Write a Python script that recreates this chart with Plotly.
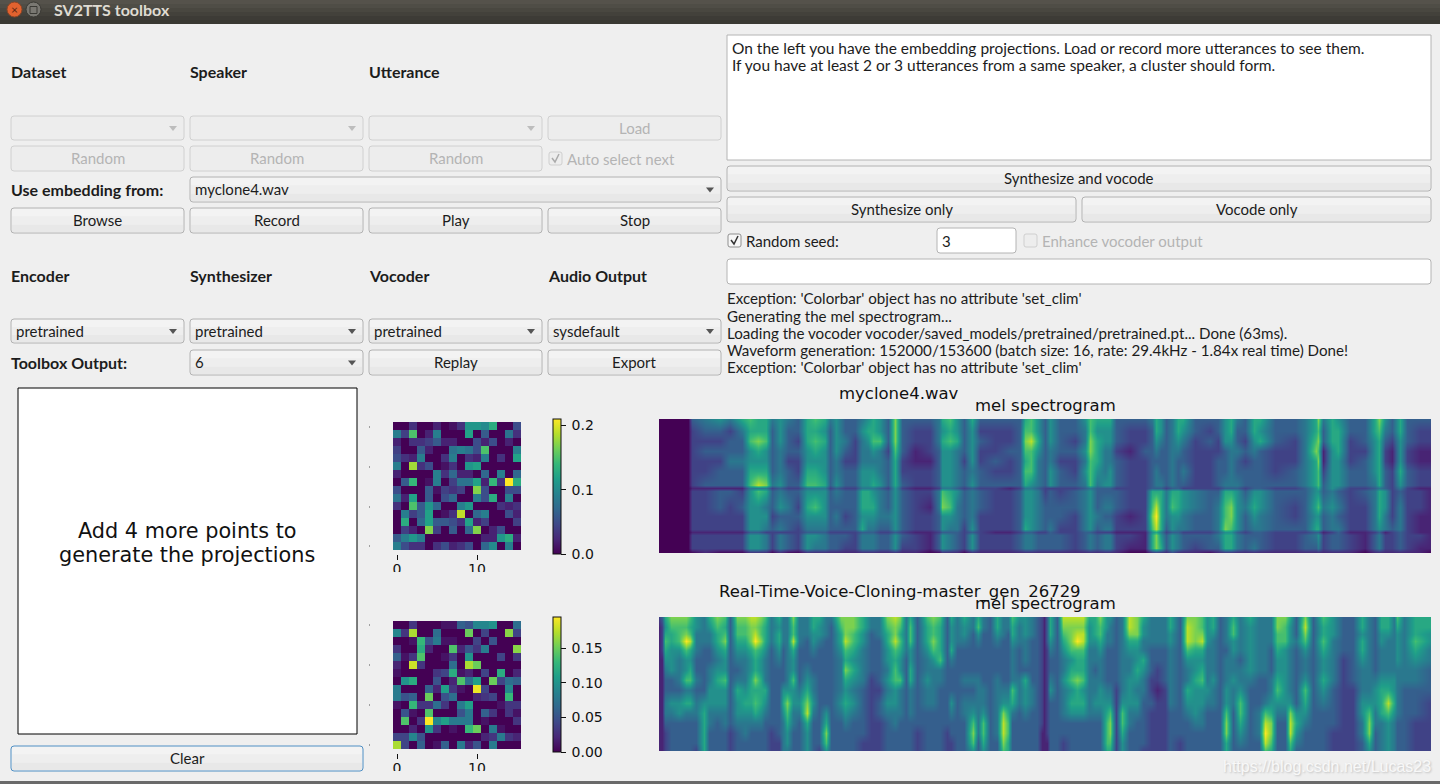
import numpy as np
import plotly.graph_objects as go

# ---------- data ----------
embed_ticks = [0, 10]
embed_cols = list(range(16))
embed_rows = list(range(16))
embed_a = [
 [0,0,.03,0,0,.02,0,.01,.03,.11,.11,.1,.13,0,0,.05],
 [.09,.04,.15,0,.02,.09,0,0,0,.12,0,.06,0,0,.08,.03],
 [.02,0,.03,.03,.04,.06,.02,.02,0,0,.05,.02,.05,0,.02,0],
 [.04,0,0,.06,.02,0,0,.08,.09,.08,.05,.15,0,0,0,.09],
 [.05,.03,.02,.09,0,0,.03,.09,0,.03,.02,.09,0,.03,0,.12],
 [.09,0,.18,.03,.05,0,.01,.03,0,.11,.12,0,0,0,0,0],
 [.02,0,0,0,0,.09,.03,.07,.02,.02,0,.07,0,.09,0,.07],
 [0,.06,.14,0,.01,.09,0,.04,.08,.08,.12,.02,.14,.03,.21,.13],
 [.05,0,0,0,.06,.01,.04,.03,.04,0,.17,.05,0,0,.05,.05],
 [.08,.02,.12,0,.06,0,.05,.07,0,0,.09,.05,.13,0,.09,0],
 [.03,0,.15,.06,.11,.07,0,0,.09,.11,0,0,0,.03,.02,.03],
 [0,.09,.04,.06,.12,0,.01,.03,.19,0,.07,.09,0,0,.05,.02],
 [0,.13,0,.07,.12,.06,.06,.05,.03,.12,.02,.04,0,0,0,.04],
 [0,.04,.02,0,.17,.04,0,.06,0,.07,.17,0,.02,.05,0,0],
 [.06,.09,.11,.09,0,0,0,0,0,0,0,.02,.02,.11,.13,.02],
 [.09,.05,.03,.03,0,.03,.05,.02,.03,.05,0,.07,.1,0,.09,0],
]
embed_b = [
 [0,0,.03,0,0,0,.01,.01,.06,.05,.09,.09,.1,0,0,.07],
 [.09,.03,.17,0,0,.07,0,0,0,.15,0,.04,0,0,.16,.04],
 [0,0,.01,.13,.05,.08,.01,.01,0,0,.04,0,.05,0,0,0],
 [.03,0,0,.12,.02,0,0,.14,.02,.05,.03,.08,0,0,0,.16],
 [.06,.01,.03,.14,0,0,.01,.03,0,.1,0,0,0,.04,0,.03],
 [.02,0,.18,.03,0,0,0,.07,0,.17,.15,0,0,0,0,0],
 [.01,0,0,0,0,.03,.04,.12,.01,.02,0,.04,0,.12,0,.02],
 [0,.1,.12,0,0,.05,0,.02,.14,.07,.11,0,.15,.04,.07,.06],
 [.08,0,0,0,.06,.02,.11,.03,.01,0,.19,.04,0,0,.09,0],
 [.08,.05,.06,0,.15,0,.05,.07,0,0,.02,.03,.04,0,.13,0],
 [.01,0,.13,.03,.03,.07,.03,0,.08,.11,0,0,0,.01,.03,.03],
 [0,.05,.01,0,.14,0,0,0,.05,.08,0,.06,.03,0,.03,.01],
 [0,.14,0,.03,.195,.09,.11,.08,.08,.08,0,.01,0,0,0,.03],
 [0,0,.02,0,.1,.03,0,.01,0,.13,.15,0,.08,.01,0,0],
 [.04,.04,.09,.05,0,0,0,0,0,0,0,.02,.03,.08,.03,.02],
 [.17,.04,0,.06,0,.01,.06,0,.08,.02,.05,0,.08,0,0,0],
]
cbar_a_ticks = [0.0, 0.1, 0.2]
cbar_a_labels = ["\u20090.0", "\u20090.1", "\u20090.2"]
cbar_b_ticks = [0.0, 0.05, 0.10, 0.15]
cbar_b_labels = ["\u20090.00", "\u20090.05", "\u20090.10", "\u20090.15"]

mel_a_bins = [134,122,112,102,92,82,68,65,62,46,37,24,21,18,5,0]
mel_a_frames = [0,29,33,46,61,71,83,91,99,107,113,121,129,139,148,156,166,171,177,186,196,203,209,214,221,229,236,243,
 256,271,280,283,291,298,305,313,321,336,351,361,366,372,379,386,391,401,416,426,431,438,446,451,457,471,486,493,497,
 502,507,513,519,524,536,551,559,566,572,578,586,595,601,616,636,646,657,659,664,673,679,691,706,716,720,726,733,741,
 748,761,772]
mel_a_cols = [
 [0]*16,
 [0]*16,
 [3,2,2,2,2,2,2,1,2,2,2,2,1,2,2,0],
 [4,3,2,3,2,2,3,1,2,2,2,2,1,2,2,1],
 [5,3,2,3,2,3,3,1,3,3,2,2,1,2,2,0],
 [4,2,3,3,4,3,3,1,3,2,2,2,1,2,2,0],
 [6,4,3,3,4,3,3,1,2,3,2,2,1,2,2,0],
 [7,6,7,5,5,6,7,4,5,5,5,5,3,5,5,1],
 [6,6,8,6,5,6,9,4,7,5,5,5,3,5,5,1],
 [6,6,7,5,5,6,8,4,6,4,5,4,2,4,4,1],
 [4,3,3,3,3,3,4,2,3,3,2,3,2,2,2,0],
 [5,5,5,4,4,4,5,3,4,5,3,4,2,4,4,1],
 [4,3,3,3,2,3,3,2,3,4,3,3,2,3,3,0],
 [3,3,2,3,2,2,3,2,3,2,3,2,2,2,2,0],
 [6,6,6,5,5,6,7,4,5,6,5,4,3,5,5,1],
 [7,6,7,6,5,6,7,4,5,7,5,4,3,5,4,1],
 [6,5,6,5,5,5,6,4,5,5,5,4,3,4,4,1],
 [4,3,3,3,3,3,3,2,3,3,3,3,2,3,3,1],
 [5,5,5,5,4,4,5,3,4,3,4,3,2,3,3,1],
 [3,3,4,3,2,3,3,2,3,3,2,3,2,3,2,1],
 [3,3,2,2,2,3,3,2,3,3,3,3,2,2,2,1],
 [4,5,4,4,4,5,5,4,6,6,5,6,3,4,4,1],
 [5,6,5,4,4,5,5,4,6,6,5,4,3,4,4,1],
 [6,6,7,5,4,5,6,4,5,6,5,4,3,4,4,1],
 [5,5,7,4,4,4,5,3,4,4,4,3,2,3,3,1],
 [3,3,3,2,3,3,3,2,3,3,4,3,2,3,3,1],
 [8,8,8,7,6,6,6,5,5,5,5,5,3,5,5,1],
 [3,3,3,3,2,2,3,2,3,3,3,3,2,3,2,1],
 [3,2,2,1,1,2,2,1,2,2,2,2,1,2,2,1],
 [3,2,2,2,1,2,2,1,2,1,2,2,1,1,1,0],
 [4,4,4,3,3,3,3,2,4,4,3,3,2,3,3,0],
 [6,5,6,5,5,5,5,4,7,8,5,5,3,5,5,1],
 [7,6,7,5,5,5,5,4,6,7,5,4,3,4,4,1],
 [5,5,6,4,4,4,4,3,5,4,4,4,3,3,3,1],
 [3,3,3,3,2,3,3,2,3,3,3,2,2,2,2,0],
 [6,5,5,5,5,4,5,3,4,4,4,5,3,5,5,1],
 [3,2,3,2,2,3,3,2,3,3,2,2,2,2,2,1],
 [3,2,2,2,3,2,3,2,2,2,2,2,1,2,2,1],
 [3,2,2,3,2,2,3,1,2,2,2,2,1,2,2,1],
 [3,3,3,3,3,3,3,2,3,3,3,3,2,3,3,1],
 [6,7,8,7,6,7,6,4,5,5,5,6,3,4,4,1],
 [7,7,9,7,7,7,5,4,5,5,5,5,3,4,4,1],
 [5,5,6,5,4,4,4,3,4,4,4,4,2,3,3,1],
 [3,3,3,3,3,3,3,2,2,3,3,3,2,3,3,1],
 [5,5,5,4,4,5,5,2,3,3,3,4,3,3,3,1],
 [3,3,3,3,2,3,3,2,2,3,3,2,2,3,3,1],
 [3,3,2,3,2,2,3,2,3,3,2,2,2,2,2,1],
 [5,4,4,5,4,5,4,3,4,4,4,4,3,3,3,1],
 [7,7,8,8,7,7,7,4,5,5,5,5,3,4,4,1],
 [6,5,6,6,6,5,4,3,3,3,4,3,2,3,3,1],
 [6,5,5,4,4,4,5,3,3,4,3,4,2,4,4,1],
 [6,5,5,4,4,5,5,3,3,4,3,4,2,4,4,1],
 [3,3,3,2,3,3,3,2,3,3,2,2,1,2,2,1],
 [3,2,2,1,2,2,2,2,2,2,1,2,1,2,1,0],
 [3,2,2,3,2,2,2,2,2,2,2,2,1,1,1,0],
 [4,3,3,3,3,3,3,3,6,7,8,7,5,6,6,1],
 [6,6,5,4,3,4,4,3,6,9,10,9,6,8,8,1],
 [5,5,4,3,3,3,4,3,6,6,6,6,4,5,6,1],
 [3,3,3,3,3,3,3,2,4,4,4,3,2,3,3,1],
 [4,4,4,4,4,4,4,3,6,7,5,5,3,5,5,2],
 [6,6,5,4,3,3,3,3,6,6,5,4,3,4,4,1],
 [6,5,4,3,3,4,3,2,5,5,4,4,2,3,3,1],
 [3,3,2,2,2,2,2,2,4,4,3,3,2,3,2,1],
 [3,2,3,2,2,2,2,2,3,3,3,3,2,3,3,0],
 [3,3,2,2,3,3,3,2,3,4,4,4,3,4,3,1],
 [5,5,5,3,3,3,4,3,6,7,7,8,5,6,6,1],
 [6,6,5,4,4,4,4,3,6,8,8,7,5,6,6,1],
 [4,3,3,4,3,3,4,3,5,5,5,5,3,4,4,1],
 [3,3,2,3,2,3,3,2,3,4,3,3,2,3,3,1],
 [6,6,5,4,3,3,3,3,5,6,5,4,3,3,4,1],
 [6,5,6,3,3,3,3,3,5,5,4,4,3,3,3,1],
 [3,3,3,2,2,2,3,2,3,3,3,3,2,2,2,1],
 [3,3,2,2,2,3,3,2,3,2,2,3,2,2,2,1],
 [4,4,4,4,4,4,4,3,3,3,3,3,2,3,3,1],
 [6,6,7,8,6,6,6,5,5,6,5,6,3,4,3,1],
 [8,7,8,7,8,7,7,6,5,7,5,6,3,5,4,1],
 [4,3,3,1,1,2,3,3,3,4,3,3,1,2,2,1],
 [6,6,6,5,5,5,5,5,4,5,4,4,2,3,3,1],
 [5,6,6,6,5,5,5,4,3,4,3,4,3,3,3,1],
 [3,3,2,2,2,3,3,2,2,2,2,2,1,2,2,1],
 [3,3,3,2,3,3,3,2,3,2,2,2,1,1,1,0],
 [6,6,5,5,5,5,4,3,4,4,4,4,2,3,3,1],
 [8,7,6,6,6,6,6,4,6,6,6,5,3,4,4,1],
 [5,4,3,2,2,3,3,3,5,5,4,4,1,2,2,1],
 [3,3,2,1,1,2,2,2,2,2,2,3,2,2,2,1],
 [6,6,5,5,5,6,5,4,3,4,4,4,3,3,3,1],
 [3,3,3,2,2,3,3,2,2,2,2,2,2,2,2,1],
 [3,2,2,1,1,2,2,1,2,2,1,1,1,2,1,1],
 [3,2,2,1,1,2,2,1,1,1,1,1,1,1,1,0],
]

mel_b_bins = [134,124,117,110,101,91,81,71,61,48,38,28,18,8,0]
mel_b_frames = [0,3,6,12,20,27,31,37,45,50,58,66,71,78,86,92,96,102,106,112,120,124,128,134,140,148,154,160,167,172,
 182,186,194,204,212,220,228,236,241,247,251,258,268,274,281,288,292,298,305,314,319,324,331,338,344,349,353,360,366,
 373,378,383,385,388,391,398,404,412,418,424,430,436,441,448,451,457,463,470,478,484,492,498,506,511,521,528,536,543,
 548,554,561,567,574,581,591,600,606,612,618,626,631,637,646,654,664,674,684,694,703,710,716,722,729,735,738,745,756,772]
mel_b_cols = [
 [2,1,1,1,1,1,1,1,1,1,1,1,1,1,1],
 [3,2,2,2,2,1,1,1,1,1,1,1,1,1,1],
 [6,5,6,7,6,5,4,3,3,4,4,3,2,2,2],
 [8,7,6,6,5,5,5,3,3,5,4,3,3,3,3],
 [8,7,7,7,5,4,4,4,3,5,5,3,3,3,3],
 [8,7,8,10,7,5,5,7,4,6,4,3,3,3,3],
 [7,6,7,9,6,5,6,7,4,6,4,3,3,3,3],
 [5,5,4,4,4,3,3,4,3,4,4,3,3,3,2],
 [4,4,4,4,3,3,3,3,3,5,6,6,6,6,6],
 [6,5,4,4,3,3,4,4,5,5,4,4,3,3,3],
 [8,7,6,6,5,4,5,6,5,5,4,3,3,3,3],
 [7,6,7,8,6,5,5,7,5,5,4,4,3,3,3],
 [3,3,3,3,3,3,3,3,3,3,3,3,2,2,2],
 [8,7,7,6,5,4,3,4,6,5,5,4,3,3,3],
 [8,7,7,6,5,4,4,4,5,6,5,4,4,3,3],
 [9,8,8,8,6,5,5,6,6,6,5,4,3,3,3],
 [9,8,9,10,7,6,6,8,6,7,6,4,3,3,3],
 [8,7,7,8,6,5,5,6,6,6,5,4,3,3,3],
 [7,6,6,6,5,4,4,4,6,5,4,3,3,3,3],
 [4,4,4,4,3,3,3,3,3,3,3,3,2,2,2],
 [6,5,6,6,5,4,3,3,3,3,3,3,3,2,2],
 [4,4,4,4,3,3,3,3,5,6,5,4,4,4,4],
 [4,4,4,4,4,4,4,4,5,8,7,6,5,5,4],
 [8,7,7,9,6,5,5,7,5,5,4,4,3,3,3],
 [4,4,4,4,3,3,3,3,4,5,4,3,3,3,3],
 [4,4,4,3,3,3,4,5,6,8,9,6,5,5,5],
 [6,6,5,5,4,3,3,4,4,5,4,3,3,3,3],
 [6,5,5,4,3,3,3,3,3,3,3,3,3,3,2],
 [4,4,4,3,3,3,3,3,3,3,5,6,8,7,5],
 [4,3,3,3,3,3,3,3,3,3,3,3,3,3,3],
 [8,7,6,6,5,4,4,4,4,5,4,3,3,3,3],
 [8,8,8,9,7,6,8,6,5,6,5,4,3,3,3],
 [8,8,7,7,6,5,6,5,4,5,4,3,3,3,3],
 [6,6,5,5,4,4,4,4,3,3,3,3,3,2,2],
 [4,4,3,3,3,3,3,2,2,2,2,2,2,2,2],
 [4,4,4,3,3,3,3,3,2,3,3,2,2,2,2],
 [8,7,6,6,5,5,4,5,4,5,4,3,3,3,3],
 [9,8,8,9,7,6,7,7,5,5,4,4,3,3,3],
 [8,7,6,7,6,5,5,7,4,4,4,3,3,3,3],
 [4,4,4,4,4,3,3,3,3,3,3,3,3,3,3],
 [6,7,7,7,5,5,6,6,4,4,4,3,3,3,3],
 [3,3,3,3,3,3,3,3,3,3,3,3,2,2,2],
 [7,6,6,6,5,4,4,5,4,4,3,3,3,3,3],
 [8,7,7,8,7,5,4,4,4,4,3,3,3,3,3],
 [7,6,6,6,6,7,4,4,3,3,3,3,3,3,3],
 [3,3,3,3,3,3,3,3,3,3,3,3,2,2,2],
 [6,5,5,5,6,4,3,3,3,5,4,3,3,2,2],
 [4,4,4,4,3,3,3,3,3,3,3,3,3,3,3],
 [6,5,5,4,3,3,3,4,3,4,4,3,3,3,3],
 [4,4,3,3,3,3,3,4,3,4,5,7,8,7,5],
 [6,7,5,4,3,3,3,4,4,4,4,4,4,3,3],
 [4,4,3,3,3,3,3,3,4,4,5,7,7,6,5],
 [3,3,3,3,3,3,3,3,3,3,3,3,3,3,3],
 [6,6,5,4,3,3,3,4,4,4,4,4,4,3,3],
 [4,4,4,3,3,3,3,3,4,5,8,9,9,8,7],
 [4,4,3,3,3,3,3,3,4,5,6,7,7,6,6],
 [7,6,6,5,4,4,4,4,7,6,4,3,3,3,3],
 [5,4,4,4,3,3,3,4,4,4,3,3,3,3,3],
 [5,5,5,4,4,4,3,6,5,5,4,3,3,3,3],
 [4,4,4,3,3,3,3,3,4,4,3,3,3,3,3],
 [3,3,3,3,3,3,3,3,3,3,3,3,3,3,3],
 [2,2,2,2,2,2,2,2,2,2,2,2,1,1,1],
 [1,1,1,1,1,1,1,1,1,1,1,1,1,1,1],
 [3,3,3,3,2,2,2,2,2,2,2,2,2,1,1],
 [6,6,6,5,4,3,3,4,5,3,3,3,3,3,3],
 [3,3,3,3,3,3,3,3,3,3,3,3,3,3,3],
 [9,8,7,6,5,4,4,5,4,4,4,3,3,2,2],
 [9,8,8,8,7,5,6,7,5,6,5,3,3,3,3],
 [9,8,9,10,7,6,6,8,6,6,5,3,3,3,3],
 [9,8,9,9,7,6,6,7,5,6,5,3,3,3,3],
 [6,5,5,5,4,4,4,4,4,4,4,3,3,3,3],
 [6,6,6,5,4,4,3,4,4,5,4,3,3,3,3],
 [8,7,7,6,5,4,4,4,5,5,4,3,3,3,3],
 [5,5,4,4,3,3,3,3,4,5,6,7,7,7,6],
 [5,4,4,4,3,3,3,3,4,5,7,8,8,7,6],
 [3,3,3,3,3,3,3,3,2,2,2,2,2,2,2],
 [4,4,4,4,4,4,4,4,4,5,7,7,6,5,5],
 [9,9,8,6,5,4,4,5,5,5,4,4,3,3,3],
 [8,8,8,6,5,5,6,5,4,5,4,3,3,3,3],
 [6,5,5,4,4,6,5,4,4,3,3,3,3,3,2],
 [4,4,4,4,3,3,3,2,2,3,2,2,2,2,2],
 [4,4,4,4,3,3,2,2,1,2,2,2,2,2,2],
 [4,4,4,4,3,3,3,3,2,2,2,2,2,2,2],
 [6,6,5,5,4,4,4,4,4,4,3,3,3,3,3],
 [3,3,3,3,3,3,3,3,3,3,3,3,3,2,2],
 [8,9,9,9,7,5,4,4,6,5,4,3,3,3,3],
 [8,8,8,8,6,5,5,6,5,5,5,4,3,3,3],
 [7,7,8,9,6,5,6,7,5,5,4,4,3,3,3],
 [5,5,5,5,4,4,4,4,5,4,3,3,3,3,3],
 [6,6,5,4,4,4,4,5,4,4,3,3,3,3,3],
 [3,3,3,3,3,3,3,3,3,3,3,3,3,3,3],
 [4,4,4,4,3,4,4,4,5,5,7,8,8,6,6],
 [6,7,7,5,5,4,4,5,4,4,3,3,3,3,3],
 [4,4,4,4,4,3,4,4,5,7,7,6,5,4,3],
 [6,5,5,5,5,5,5,4,3,3,3,3,3,3,3],
 [4,4,4,4,4,4,4,3,3,3,4,4,4,3,3],
 [4,4,4,4,4,4,4,3,3,4,7,9,10,9,7],
 [4,4,4,4,3,3,3,4,4,5,6,8,8,7,6],
 [8,8,7,7,6,5,5,6,7,5,4,3,3,3,3],
 [8,7,7,7,5,5,5,5,5,5,4,3,3,3,3],
 [6,5,5,5,4,4,4,4,4,5,8,9,9,7,6],
 [3,3,3,4,3,3,3,3,3,3,5,6,5,4,3],
 [8,9,8,7,5,4,4,5,7,6,5,4,3,3,3],
 [3,3,3,3,3,3,3,3,3,3,3,3,3,3,3],
 [7,6,6,7,6,5,5,6,5,4,3,3,3,3,3],
 [5,5,5,4,4,4,4,4,3,3,3,3,2,2,2],
 [3,3,3,3,3,2,2,2,2,2,2,2,2,2,2],
 [3,3,3,3,3,3,3,3,2,2,2,2,2,2,2],
 [6,6,5,6,6,5,4,4,4,5,5,4,4,3,3],
 [4,4,4,4,4,4,4,4,4,5,7,8,8,6,5],
 [3,3,3,3,3,3,3,4,5,5,4,4,3,3,3],
 [6,6,5,5,4,4,4,5,6,6,6,4,4,4,4],
 [6,6,5,4,4,4,4,5,6,9,7,5,5,5,5],
 [4,4,4,4,4,4,4,5,5,6,5,4,4,4,4],
 [7,6,5,5,5,5,4,4,4,4,4,3,3,3,3],
 [4,4,4,4,4,4,4,4,3,3,3,3,3,3,3],
 [6,6,6,7,6,5,4,4,3,3,3,2,2,2,2],
 [6,6,5,5,4,4,3,3,3,2,2,2,2,2,2],
]

log_lines = [
 "Exception: 'Colorbar' object has no attribute 'set_clim'",
 "Generating the mel spectrogram...",
 "Loading the vocoder vocoder/saved_models/pretrained/pretrained.pt... Done (63ms).",
 "Waveform generation: 152000/153600 (batch size: 16, rate: 29.4kHz - 1.84x real time) Done!",
 "Exception: 'Colorbar' object has no attribute 'set_clim'",
]
text_box_lines = [
 "On the left you have the embedding projections. Load or record more utterances to see them.",
 "If you have at least 2 or 3 utterances from a same speaker, a cluster should form.",
]

# ---------- page helpers ----------
W, H = 1440, 784
BG = "#efefef"
UI = "Lato"
MPL = "DejaVu Sans"
INK = "#1c1c1c"
OFF = "#b4b4b4"
shapes, notes = [], []


def rect(x0, y0, x1, y1, fill, line=None, width=1, layer="below"):
    shapes.append(dict(type="rect", xref="x", yref="y", x0=x0, y0=y0, x1=x1, y1=y1, fillcolor=fill,
                       line=dict(color=line or fill, width=width if line else 0), layer=layer))


def rrect(x0, y0, x1, y1, fill, line, r=3):
    p = (f"M{x0+r},{y0} L{x1-r},{y0} Q{x1},{y0} {x1},{y0+r} L{x1},{y1-r} Q{x1},{y1} {x1-r},{y1} "
         f"L{x0+r},{y1} Q{x0},{y1} {x0},{y1-r} L{x0},{y0+r} Q{x0},{y0} {x0+r},{y0} Z")
    shapes.append(dict(type="path", xref="x", yref="y", path=p, fillcolor=fill,
                       line=dict(color=line, width=1), layer="below"))


def path(d, fill=None, line=None, width=1.5):
    s = dict(type="path", xref="x", yref="y", path=d, layer="below", line=dict(color=line or "rgba(0,0,0,0)", width=width))
    if fill:
        s["fillcolor"] = fill
    shapes.append(s)


def text(x, y, s, size=15, color=INK, bold=False, anchor="left", family=UI, **kw):
    t = f"<b>{s}</b>" if bold else s
    if bold and size == 15:
        size = 16
    dy = .5 if family == UI else -.5
    notes.append(dict(xref="x", yref="y", x=x, y=y - dy, text=t, showarrow=False, xanchor=anchor, yanchor="middle",
                      borderpad=0, borderwidth=0,
                      font=dict(family=family, size=size, color=color, **kw)))


def button(x0, y0, x1, y1, label="", enabled=True, line=None):
    if enabled:
        rrect(x0, y0, x1, y1, "#f3f3f3", line or "#b2b2b2")
        rect(x0 + 1, (y0 * 2 + y1) / 3, x1 - 1, (y0 + y1 * 2) / 3, "#eeeeee")
        rect(x0 + 1, (y0 + y1 * 2) / 3, x1 - 1, y1 - 1, "#e8e8e8")
    else:
        rrect(x0, y0, x1, y1, "#ededed", "#d0d0d0")
    if label:
        text((x0 + x1) / 2, (y0 + y1) / 2, label, color=INK if enabled else OFF, anchor="center")


def combo(x0, y0, x1, y1, label="", enabled=True):
    button(x0, y0, x1, y1, "", enabled)
    c = "#555555" if enabled else "#bdbdbd"
    cx, cy = x1 - 11, (y0 + y1) / 2
    path(f"M{cx-4},{cy-2} L{cx+4},{cy-2} L{cx},{cy+3} Z", fill=c)
    if label:
        text(x0 + 5, (y0 + y1) / 2, label)


def checkbox(x, y, enabled=True, checked=True):
    c = "#8f8f8f" if enabled else "#cfcfcf"
    rrect(x, y, x + 13, y + 13, "#f7f7f7" if enabled else "#ededed", c, r=2)
    if checked:
        path(f"M{x+3},{y+6} L{x+6},{y+10} L{x+10},{y+2}", line="#333333" if enabled else "#aaaaaa")


# title bar
for k, c in enumerate(["#55524b", "#4f4d46", "#494740", "#43413b", "#3d3b36", "#393832"]):
    rect(0, k * 4, W, (k + 1) * 4, c)
shapes.append(dict(type="circle", xref="x", yref="y", x0=7, y0=2, x1=22, y1=17, fillcolor="#e2622f",
                   line=dict(color="#8a4526", width=1), layer="below"))
shapes.append(dict(type="circle", xref="x", yref="y", x0=26, y0=2, x1=41, y1=17, fillcolor="#7a7872",
                   line=dict(color="#3a3934", width=1), layer="below"))
text(14.5, 10, "×", size=12, color="#5b2611", anchor="center")
rect(30, 6.5, 37, 13.5, "#7a7872", "#3a3934")
text(54, 10, "SV2TTS toolbox", size=16, color="#dfdbd2", bold=True)

cols = [(11, 184), (190, 363), (369, 542), (548, 721)]
for (x0, _), s in zip(cols, ["Dataset", "Speaker", "Utterance"]):
    text(x0, 72, s, bold=True)
for (x0, x1) in cols[:3]:
    combo(x0, 116, x1, 140, enabled=False)
    button(x0, 146, x1, 171, "Random", enabled=False)
button(548, 116, 721, 140, "Load", enabled=False)
checkbox(549, 152, enabled=False)
text(567, 159, "Auto select next", color=OFF)
text(11, 190, "Use embedding from:", bold=True)
combo(190, 177, 721, 202, "myclone4.wav")
for (x0, x1), s in zip(cols, ["Browse", "Record", "Play", "Stop"]):
    button(x0, 208, x1, 233, s)
for (x0, _), s in zip(cols, ["Encoder", "Synthesizer", "Vocoder", "Audio Output"]):
    text(x0, 276, s, bold=True)
for (x0, x1), s in zip(cols, ["pretrained", "pretrained", "pretrained", "sysdefault"]):
    combo(x0, 319, x1, 343, s)
text(11, 363, "Toolbox Output:", bold=True)
combo(190, 350, 363, 375, "6")
button(369, 350, 542, 375, "Replay")
button(548, 350, 721, 375, "Export")

# text box and right-hand controls
rect(727, 35, 1431, 160, "#ffffff", "#b4b4b4")
for y, s in zip([48, 65], text_box_lines):
    text(732, y, s, size=15.5)
button(727, 166, 1431, 191, "Synthesize and vocode")
button(727, 197, 1076, 222, "Synthesize only")
button(1082, 197, 1431, 222, "Vocode only")
checkbox(728, 234)
text(746, 241, "Random seed:")
rrect(937, 228, 1016, 253, "#ffffff", "#b4b4b4")
text(942, 241, "3")
checkbox(1024, 234, enabled=False, checked=False)
text(1042, 241, "Enhance vocoder output", color=OFF)
rrect(727, 259, 1431, 284, "#ffffff", "#b4b4b4")
for y, s in zip([298, 316, 333, 350, 367], log_lines):
    text(727, y, s, size=15.15)

# projection canvas
rect(18, 388, 357, 734, "#ffffff", "#000000")
text(187, 530, "Add 4 more points to", size=20.8, family=MPL, color="#111111", anchor="center")
text(187, 554, "generate the projections", size=20.8, family=MPL, color="#111111", anchor="center")
button(11, 746, 363, 771, "Clear", line="#4f8fc4")

# matplotlib titles
text(899, 393, "myclone4.wav", size=16.5, family=MPL, color="#111111", anchor="center")
text(1045, 405, "mel spectrogram", size=16.5, family=MPL, color="#111111", anchor="center")
text(900, 591, "Real-Time-Voice-Cloning-master_gen_26729", size=16.5, family=MPL, color="#111111", anchor="center")
text(1045, 603, "mel spectrogram", size=16.5, family=MPL, color="#111111", anchor="center")

# small remnants of clipped y tick labels left of the embeddings
for y in [427, 467, 507, 546, 625, 665, 705, 745]:
    rect(369, y - .5, 370, y + .5, "#555555")

text(1327, 766, "https://blog.csdn.net/Lucas23", size=16, family="Liberation Sans", color="#f8f8f8",
     anchor="center", shadow="1px 1px 2px #c0c0c0")

# covers that clip the tick labels and leave the gap under the embeddings, as the reference canvas does
rect(372, 550.5, 540, 555, BG, layer="above")
rect(372, 749.5, 540, 754, BG, layer="above")
rect(372, 572, 540, 580, BG, layer="above")
rect(372, 771, 540, 781, BG, layer="above")
rect(0, 781, W, H, "#6a6a6a", layer="above")

# ---------- figure ----------
fig = go.Figure()


def dom(a, b, total, flip=False):
    return [1 - b / total, 1 - a / total] if flip else [a / total, b / total]


layout = dict(
    width=W, height=H, autosize=False, margin=dict(l=0, r=0, t=0, b=0, pad=0),
    paper_bgcolor=BG, plot_bgcolor="rgba(0,0,0,0)", showlegend=False,
    font=dict(family=MPL, size=13, color="#111111"),
    xaxis=dict(range=[0, W], domain=[0, 1], visible=False, fixedrange=True),
    yaxis=dict(range=[H, 0], domain=[0, 1], visible=False, fixedrange=True),
)


def add_embed(z, n, px, zmax, cb_top, cb_h, tickvals, ticktext):
    fig.add_trace(go.Heatmap(
        z=z, x=embed_cols, y=embed_rows, colorscale="Viridis", zmin=0, zmax=zmax,
        xaxis=f"x{n}", yaxis=f"y{n}",
        colorbar=dict(x=553 / W, xanchor="left", y=1 - cb_top / H, yanchor="top", len=cb_h, lenmode="pixels",
                      thickness=8, thicknessmode="pixels", xpad=0, ypad=0, outlinecolor="#111111", outlinewidth=1,
                      tickvals=tickvals, ticktext=ticktext, ticks="outside", ticklen=5, tickwidth=1,
                      tickcolor="#111111", tickfont=dict(family=MPL, size=14, color="#111111"))))
    layout[f"xaxis{n}"] = dict(domain=dom(px[0], px[1], W), anchor=f"y{n}", range=[-.5, 15.5], tickvals=embed_ticks,
                               ticks="outside", ticklen=9, ticklabelstandoff=-3, tickcolor="#111111", showgrid=False,
                               zeroline=False, tickfont=dict(family=MPL, size=14, color="#111111"), fixedrange=True)
    layout[f"yaxis{n}"] = dict(domain=dom(px[2], px[3], H, True), anchor=f"x{n}", range=[15.5, -.5], visible=False,
                               showgrid=False, zeroline=False, fixedrange=True)


def add_mel(cols_, frames, bins, n, px):
    fig.add_trace(go.Heatmap(
        z=np.array(cols_).T.tolist(), x=frames, y=bins, colorscale="Viridis", zmin=0, zmax=10,
        zsmooth="best", showscale=False, xaxis=f"x{n}", yaxis=f"y{n}"))
    layout[f"xaxis{n}"] = dict(domain=dom(px[0], px[1], W), anchor=f"y{n}", range=[0, px[1] - px[0]], visible=False,
                               showgrid=False, zeroline=False, fixedrange=True)
    layout[f"yaxis{n}"] = dict(domain=dom(px[2], px[3], H, True), anchor=f"x{n}", range=[0, px[3] - px[2]], visible=False,
                               showgrid=False, zeroline=False, fixedrange=True)


# hidden page axis needs a trace so that its shapes are placed
fig.add_trace(go.Scatter(x=[0], y=[0], mode="markers", marker=dict(opacity=0), hoverinfo="skip"))
add_embed(embed_a, 2, (393, 521, 422, 550), 0.21, 419, 135, cbar_a_ticks, cbar_a_labels)
add_embed(embed_b, 3, (393, 521, 621, 749), 0.195, 617, 135, cbar_b_ticks, cbar_b_labels)
add_mel(mel_a_cols, mel_a_frames, mel_a_bins, 4, (659, 1431, 419, 553))
add_mel(mel_b_cols, mel_b_frames, mel_b_bins, 5, (659, 1431, 617, 751))

fig.update_layout(**layout, shapes=shapes, annotations=notes)
fig.write_html("out.html", config=dict(displayModeBar=False, responsive=False),
               post_script="document.body.style.margin='0';document.body.style.overflow='hidden';")
